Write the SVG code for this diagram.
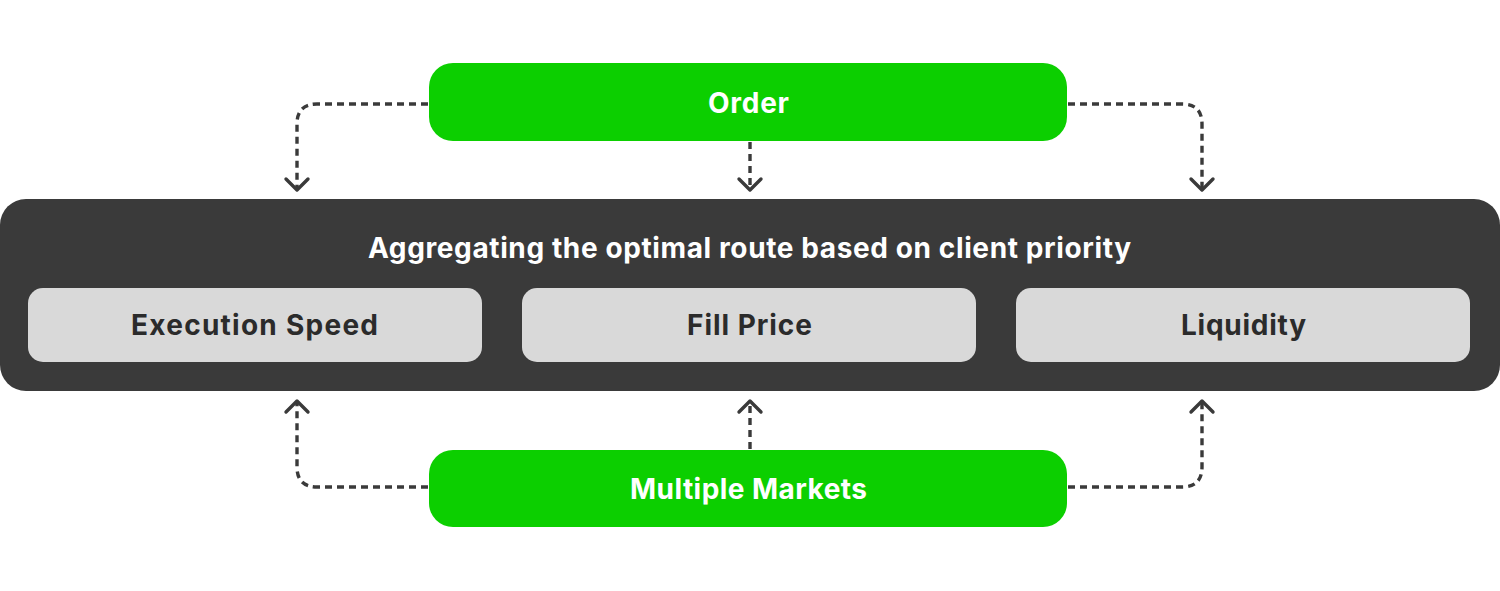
<svg xmlns="http://www.w3.org/2000/svg" width="1500" height="591" viewBox="0 0 1500 591">
<style>
.green{fill:#0ccf00}
.dark{fill:#3a3a3a}
.light{fill:#d9d9d9}
.t{font-family:Inter,"Liberation Sans",sans-serif;font-weight:700;text-anchor:middle;dominant-baseline:central;font-size:28px}
.w{fill:#ffffff}
.k{fill:#2b2b2b}
.con{fill:none;stroke:#3a3a3a;stroke-width:3.4;stroke-dasharray:7 5}
.head{fill:none;stroke:#3a3a3a;stroke-width:3.4;stroke-linecap:round;stroke-linejoin:round}
</style>
<rect width="1500" height="591" fill="#ffffff"/>
<g id="connectors">
<path class="con" d="M428,104 H317 Q297,104 297,124 V188"/>
<polyline class="head" points="286,179 297,190 308,179"/>
<path class="con" d="M750,142 V188"/>
<polyline class="head" points="739,179 750,190 761,179"/>
<path class="con" d="M1068,104 H1182 Q1202,104 1202,124 V188"/>
<polyline class="head" points="1191,179 1202,190 1213,179"/>
<path class="con" d="M428,487 H317 Q297,487 297,467 V403"/>
<polyline class="head" points="286,412 297,401 308,412"/>
<path class="con" d="M750,449 V403"/>
<polyline class="head" points="739,412 750,401 761,412"/>
<path class="con" d="M1068,487 H1182 Q1202,487 1202,467 V403"/>
<polyline class="head" points="1191,412 1202,401 1213,412"/>
</g>
<g id="order">
<rect class="green" x="429" y="63" width="638" height="78" rx="24"/>
<text class="t w" x="748.5" y="103" textLength="81" lengthAdjust="spacing">Order</text>
</g>
<g id="aggregator">
<rect class="dark" x="0" y="199" width="1500" height="192" rx="26"/>
<text class="t w" x="749.5" y="248" textLength="763" lengthAdjust="spacing">Aggregating the optimal route based on client priority</text>
</g>
<g id="execution-speed">
<rect class="light" x="28" y="288" width="454" height="74" rx="15"/>
<text class="t k" x="254.5" y="325" textLength="247" lengthAdjust="spacing">Execution Speed</text>
</g>
<g id="fill-price">
<rect class="light" x="522" y="288" width="454" height="74" rx="15"/>
<text class="t k" x="749.5" y="325" textLength="125" lengthAdjust="spacing">Fill Price</text>
</g>
<g id="liquidity">
<rect class="light" x="1016" y="288" width="454" height="74" rx="15"/>
<text class="t k" x="1243.5" y="325" textLength="125" lengthAdjust="spacing">Liquidity</text>
</g>
<g id="multiple-markets">
<rect class="green" x="429" y="450" width="638" height="77" rx="24"/>
<text class="t w" x="748.5" y="489" textLength="237" lengthAdjust="spacing">Multiple Markets</text>
</g>
</svg>
